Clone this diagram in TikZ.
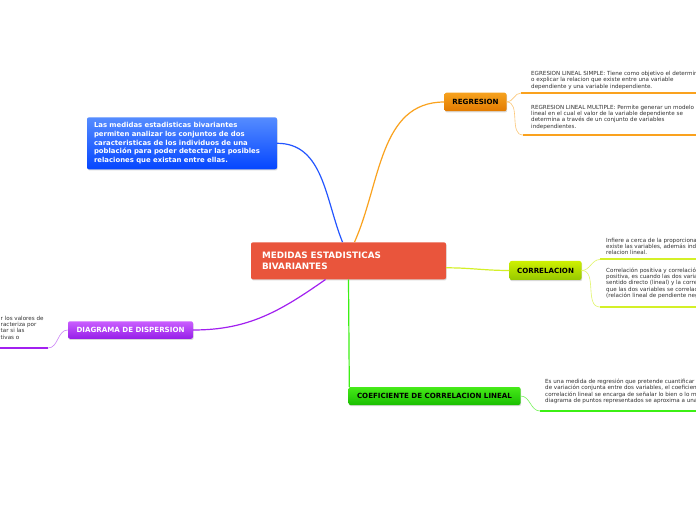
\documentclass[tikz,border=0pt]{standalone}
\usepackage{fontspec}
\setmainfont{DejaVu Sans}
\usepackage{xcolor}
\usepackage{tikz}
\usetikzlibrary{shadows}
\definecolor{ctrred}{RGB}{233,85,60}
\definecolor{introtop}{RGB}{85,140,255}
\definecolor{introbot}{RGB}{5,70,255}
\definecolor{regtop}{RGB}{246,162,30}
\definecolor{regbot}{RGB}{226,122,0}
\definecolor{cortop}{RGB}{206,240,0}
\definecolor{corbot}{RGB}{150,200,0}
\definecolor{coeftop}{RGB}{70,235,25}
\definecolor{coefbot}{RGB}{25,190,0}
\definecolor{diagtop}{RGB}{202,95,255}
\definecolor{diagbot}{RGB}{150,30,232}
\definecolor{bluelink}{RGB}{35,85,255}
\definecolor{orangelink}{RGB}{250,162,30}
\definecolor{limelink}{RGB}{212,240,40}
\definecolor{greenlink}{RGB}{60,240,20}
\definecolor{purplelink}{RGB}{162,32,240}
\definecolor{leaftext}{RGB}{50,50,50}

\begin{document}
\begin{tikzpicture}[x=1pt,y=1pt,
  topic/.style={rectangle, rounded corners=2pt, inner sep=0pt, align=center,
    font=\bfseries\fontsize{7.1}{8}\selectfont,
    drop shadow={shadow xshift=0.6pt, shadow yshift=-1.2pt, opacity=0.3}},
  leaf/.style={anchor=south west, align=left, inner xsep=6pt, inner ysep=4.3pt,
    text=leaftext, font=\fontsize{5.6}{6.4}\selectfont},
  branch/.style={line width=1.2pt},
  twig/.style={line width=0.6pt},
  uline/.style={line width=2pt}]
\useasboundingbox (0,0) rectangle (696,520);
\fill[white] (0,0) rectangle (696,520);

\node[topic, fill=ctrred, text=white, minimum width=195pt, minimum height=37pt, text width=173pt, align=left, font=\bfseries\fontsize{8.8}{10.6}\selectfont] (ctr) at (348.5,259.2) {MEDIDAS ESTADISTICAS\\BIVARIANTES};
\node[topic, top color=introtop, bottom color=introbot, text=white, minimum width=190pt, minimum height=52pt, text width=176pt, align=left, font=\bfseries\fontsize{6.9}{8.75}\selectfont] (intro) at (182,376.7) {Las medidas estadisticas bivariantes\\permiten analizar los conjuntos de dos\\caracteristicas de los individuos de una\\población para poder detectar las posibles\\relaciones que existan entre ellas.};
\node[topic, top color=regtop, bottom color=regbot, minimum width=62pt, minimum height=18.5pt] (reg) at (475.5,418) {REGRESION};
\node[topic, top color=cortop, bottom color=corbot, minimum width=72pt, minimum height=19pt] (cor) at (545.5,249.5) {CORRELACION};
\node[topic, top color=coeftop, bottom color=coefbot, minimum width=172pt, minimum height=18pt] (coef) at (434.5,124) {COEFICIENTE DE CORRELACION LINEAL};
\node[topic, top color=diagtop, bottom color=diagbot, text=white, minimum width=125pt, minimum height=17.5pt] (diag) at (130.5,190) {DIAGRAMA DE DISPERSION};

\draw[branch, bluelink] ([xshift=-6pt]ctr.north) to[out=112,in=0] (intro.east);
\draw[branch, orangelink] ([xshift=6pt]ctr.north) to[out=66,in=180] (reg.west);
\draw[branch, limelink] ([yshift=-7pt]ctr.east) to[out=0,in=180] (cor.west);
\draw[branch, greenlink] (ctr.south) -- ([xshift=1pt]coef.north west);
\draw[branch, purplelink] ([xshift=-23pt]ctr.south) to[out=215,in=0] (diag.east);

\coordinate (r1) at (521,427);
\coordinate (r2) at (523,385);
\coordinate (c1) at (600,260.5);
\coordinate (c2) at (600,213);
\coordinate (k1) at (540,109);
\coordinate (d1) at (48,172);

\node[leaf, inner xsep=10pt, inner ysep=3.5pt] (r1t) at (r1) {EGRESION LINEAL SIMPLE: Tiene como objetivo el determinar\\o explicar la relacion que existe entre una variable\\dependiente y una variable independiente.};
\node[leaf, inner xsep=8pt, inner ysep=5.3pt] (r2t) at (r2) {REGRESION LINEAL MULTIPLE: Permite generar un modelo\\lineal en el cual el valor de la variable dependiente se\\determina a través de un conjunto de variables\\independientes.};
\node[leaf] (c1t) at (c1) {Infiere a cerca de la proporcionalidad\\existe las variables, además indica\\relacion lineal.};
\node[leaf, inner ysep=8pt] (c2t) at (c2) {Correlación positiva y correlación\\positiva, es cuando las dos variables\\sentido directo (lineal) y la correlación\\que las dos variables se correlacionan\\(relación lineal de pendiente negativa)};
\node[leaf, inner xsep=5pt, inner ysep=7pt] (k1t) at (k1) {Es una medida de regresión que pretende cuantificar el\\de variación conjunta entre dos variables, el coeficiente\\correlación lineal se encarga de señalar lo bien o lo mal\\diagrama de puntos representados se aproxima a una};
\node[leaf, inner xsep=0.5pt, inner ysep=8.5pt] (d1t) at (0,172) {r los valores de\\racteriza por\\tar si las\\tivas o};

\draw[uline, orangelink] (r1) -- ++(200,0);
\draw[uline, orangelink] (r2) -- ++(200,0);
\draw[uline, limelink] (c1) -- ++(120,0);
\draw[uline, limelink] (c2) -- ++(120,0);
\draw[uline, greenlink] (k1) -- ++(180,0);
\draw[uline, purplelink] (d1) -- ++(-60,0);

\draw[twig, orangelink!60] (reg.east) to[out=0,in=180] (r1);
\draw[twig, orangelink!60] (reg.east) to[out=0,in=180] (r2);
\draw[twig, limelink!70] (cor.east) to[out=0,in=180] (c1);
\draw[twig, limelink!70] (cor.east) to[out=0,in=180] (c2);
\draw[twig, greenlink!70] (coef.east) to[out=0,in=180] (k1);
\draw[twig, purplelink!55] (diag.west) to[out=180,in=0] (d1);
\end{tikzpicture}
\end{document}
